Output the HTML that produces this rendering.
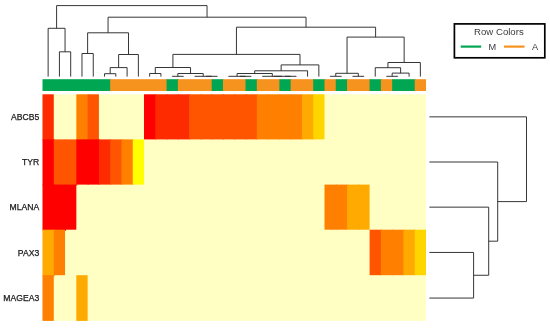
<!DOCTYPE html>
<html><head><meta charset="utf-8"><title>Heatmap</title>
<style>html,body{margin:0;padding:0;background:#fff;}svg{display:block;font-family:"Liberation Sans",sans-serif;}</style>
</head><body>
<svg width="550" height="328" viewBox="0 0 550 328">
<rect width="550" height="328" fill="#fff"/>
<rect x="42.5" y="94.3" width="383.4" height="226.59999999999997" fill="#FFFFC4"/>
<rect x="42.50" y="94.30" width="11.28" height="46.10" fill="#FF2B00"/>
<rect x="76.34" y="94.30" width="12.28" height="46.10" fill="#FF8000"/>
<rect x="87.62" y="94.30" width="11.28" height="46.10" fill="#FF5500"/>
<rect x="144.01" y="94.30" width="12.28" height="45.10" fill="#FF0000"/>
<rect x="155.29" y="94.30" width="12.28" height="45.10" fill="#FF2B00"/>
<rect x="166.57" y="94.30" width="12.28" height="45.10" fill="#FF2B00"/>
<rect x="177.85" y="94.30" width="12.28" height="45.10" fill="#FF2B00"/>
<rect x="189.13" y="94.30" width="12.28" height="45.10" fill="#FF5500"/>
<rect x="200.41" y="94.30" width="12.28" height="45.10" fill="#FF5500"/>
<rect x="211.69" y="94.30" width="12.28" height="45.10" fill="#FF5500"/>
<rect x="222.97" y="94.30" width="12.28" height="45.10" fill="#FF5500"/>
<rect x="234.25" y="94.30" width="12.28" height="45.10" fill="#FF5500"/>
<rect x="245.53" y="94.30" width="12.28" height="45.10" fill="#FF5500"/>
<rect x="256.81" y="94.30" width="12.28" height="45.10" fill="#FF8000"/>
<rect x="268.09" y="94.30" width="12.28" height="45.10" fill="#FF8000"/>
<rect x="279.37" y="94.30" width="12.28" height="45.10" fill="#FF8000"/>
<rect x="290.65" y="94.30" width="12.28" height="45.10" fill="#FF8000"/>
<rect x="301.93" y="94.30" width="12.28" height="45.10" fill="#FFAA00"/>
<rect x="313.21" y="94.30" width="11.28" height="45.10" fill="#FFD500"/>
<rect x="42.50" y="139.40" width="12.28" height="46.20" fill="#FF0000"/>
<rect x="53.78" y="139.40" width="12.28" height="46.20" fill="#FF5500"/>
<rect x="65.06" y="139.40" width="12.28" height="46.20" fill="#FF5500"/>
<rect x="76.34" y="139.40" width="12.28" height="45.20" fill="#FF0000"/>
<rect x="87.62" y="139.40" width="12.28" height="45.20" fill="#FF0000"/>
<rect x="98.90" y="139.40" width="12.28" height="45.20" fill="#FF2B00"/>
<rect x="110.18" y="139.40" width="12.28" height="45.20" fill="#FF5500"/>
<rect x="121.46" y="139.40" width="12.28" height="45.20" fill="#FF8000"/>
<rect x="132.74" y="139.40" width="11.28" height="45.20" fill="#FFFF00"/>
<rect x="42.50" y="184.60" width="12.28" height="46.10" fill="#FF0000"/>
<rect x="53.78" y="184.60" width="12.28" height="46.10" fill="#FF0000"/>
<rect x="65.06" y="184.60" width="11.28" height="45.10" fill="#FF0000"/>
<rect x="324.49" y="184.60" width="12.28" height="45.10" fill="#FF8000"/>
<rect x="335.76" y="184.60" width="12.28" height="45.10" fill="#FF8000"/>
<rect x="347.04" y="184.60" width="12.28" height="45.10" fill="#FFAA00"/>
<rect x="358.32" y="184.60" width="11.28" height="45.10" fill="#FFAA00"/>
<rect x="42.50" y="229.70" width="12.28" height="46.50" fill="#FFAA00"/>
<rect x="53.78" y="229.70" width="11.28" height="45.50" fill="#FF8000"/>
<rect x="369.60" y="229.70" width="12.28" height="45.50" fill="#FF5500"/>
<rect x="380.88" y="229.70" width="12.28" height="45.50" fill="#FF8000"/>
<rect x="392.16" y="229.70" width="12.28" height="45.50" fill="#FF8000"/>
<rect x="403.44" y="229.70" width="12.28" height="45.50" fill="#FFAA00"/>
<rect x="414.72" y="229.70" width="11.28" height="45.50" fill="#FFD500"/>
<rect x="42.50" y="275.20" width="11.28" height="45.70" fill="#FF8000"/>
<rect x="76.34" y="275.20" width="11.28" height="45.70" fill="#FFAA00"/>
<rect x="42.50" y="79.2" width="68.68" height="11.8" fill="#00A651"/>
<rect x="110.18" y="79.2" width="57.40" height="11.8" fill="#F6921E"/>
<rect x="166.57" y="79.2" width="12.28" height="11.8" fill="#00A651"/>
<rect x="177.85" y="79.2" width="34.84" height="11.8" fill="#F6921E"/>
<rect x="211.69" y="79.2" width="12.28" height="11.8" fill="#00A651"/>
<rect x="222.97" y="79.2" width="23.56" height="11.8" fill="#F6921E"/>
<rect x="245.53" y="79.2" width="12.28" height="11.8" fill="#00A651"/>
<rect x="256.81" y="79.2" width="23.56" height="11.8" fill="#F6921E"/>
<rect x="279.37" y="79.2" width="12.28" height="11.8" fill="#00A651"/>
<rect x="290.65" y="79.2" width="23.56" height="11.8" fill="#F6921E"/>
<rect x="313.21" y="79.2" width="12.28" height="11.8" fill="#00A651"/>
<rect x="324.49" y="79.2" width="12.28" height="11.8" fill="#F6921E"/>
<rect x="335.76" y="79.2" width="12.28" height="11.8" fill="#00A651"/>
<rect x="347.04" y="79.2" width="23.56" height="11.8" fill="#F6921E"/>
<rect x="369.60" y="79.2" width="12.28" height="11.8" fill="#00A651"/>
<rect x="380.88" y="79.2" width="12.28" height="11.8" fill="#F6921E"/>
<rect x="392.16" y="79.2" width="23.56" height="11.8" fill="#00A651"/>
<rect x="414.72" y="79.2" width="11.28" height="11.8" fill="#F6921E"/>
<path d="M59.42 76.60V51.80H70.70V76.60M48.14 76.60V28.30H65.06V51.80M81.98 76.60V53.50H93.26V76.60M104.54 76.60V73.70H115.82V76.60M110.18 73.70V67.60H127.10V76.60M118.64 67.60V54.50H138.38V76.60M87.62 53.50V32.80H128.51V54.50M149.65 76.60V73.50H160.93V76.60M172.21 76.60V76.30H183.49V76.60M206.05 76.60V76.30H217.33V76.60M194.77 76.60V76.30H211.69V76.30M177.85 76.30V73.50H203.23V76.30M155.29 73.50V67.50H190.54V73.50M239.89 76.60V76.30H251.17V76.60M228.61 76.60V76.30H245.53V76.30M285.01 76.60V76.30H296.29V76.60M273.73 76.60V76.30H290.65V76.30M262.45 76.60V76.30H282.19V76.30M237.07 76.30V73.50H272.32V76.30M254.69 73.50V70.80H307.57V76.60M281.13 70.80V64.90H318.85V76.60M172.92 67.50V54.40H299.99V64.90M330.12 76.60V76.30H341.40V76.60M352.68 76.60V76.30H363.96V76.60M335.76 76.30V73.30H358.32V76.30M386.52 76.60V76.30H397.80V76.60M392.16 76.30V73.10H409.08V76.60M375.24 76.60V67.70H400.62V73.10M387.93 67.70V62.50H420.36V76.60M347.04 73.30V37.10H404.15V62.50M236.45 54.40V27.20H375.60V37.10M108.06 32.80V17.20H306.02V27.20M56.60 28.30V5.60H207.04V17.20M429.40 252.45H473.60V298.05H429.40M429.40 207.15H488.70V275.25H473.60M429.40 162.00H497.70V241.20H488.70M429.40 116.85H526.50V201.60H497.70" fill="none" stroke="#2b2b2b" stroke-width="0.95" stroke-linejoin="miter"/>
<text x="39.2" y="119.9" text-anchor="end" font-size="8.6" fill="#1a1a1a" stroke="#1a1a1a" stroke-width="0.25">ABCB5</text>
<text x="39.2" y="164.9" text-anchor="end" font-size="8.6" fill="#1a1a1a" stroke="#1a1a1a" stroke-width="0.25">TYR</text>
<text x="39.2" y="210.2" text-anchor="end" font-size="8.6" fill="#1a1a1a" stroke="#1a1a1a" stroke-width="0.25">MLANA</text>
<text x="39.2" y="255.9" text-anchor="end" font-size="8.6" fill="#1a1a1a" stroke="#1a1a1a" stroke-width="0.25">PAX3</text>
<text x="39.2" y="301.0" text-anchor="end" font-size="8.6" fill="#1a1a1a" stroke="#1a1a1a" stroke-width="0.25">MAGEA3</text>
<rect x="454.4" y="23.9" width="90.4" height="33.9" fill="#fff" stroke="#000" stroke-width="1.7"/>
<text x="498.9" y="35.4" text-anchor="middle" font-size="9.6" fill="#3a3a3a">Row Colors</text>
<line x1="460.7" y1="46.6" x2="481.2" y2="46.6" stroke="#00A651" stroke-width="2.2"/>
<text x="488.6" y="49.9" font-size="9.2" fill="#3a3a3a">M</text>
<line x1="504" y1="46.6" x2="524.5" y2="46.6" stroke="#F6921E" stroke-width="2.2"/>
<text x="532" y="49.9" font-size="9.2" fill="#3a3a3a">A</text>
</svg>
</body></html>
